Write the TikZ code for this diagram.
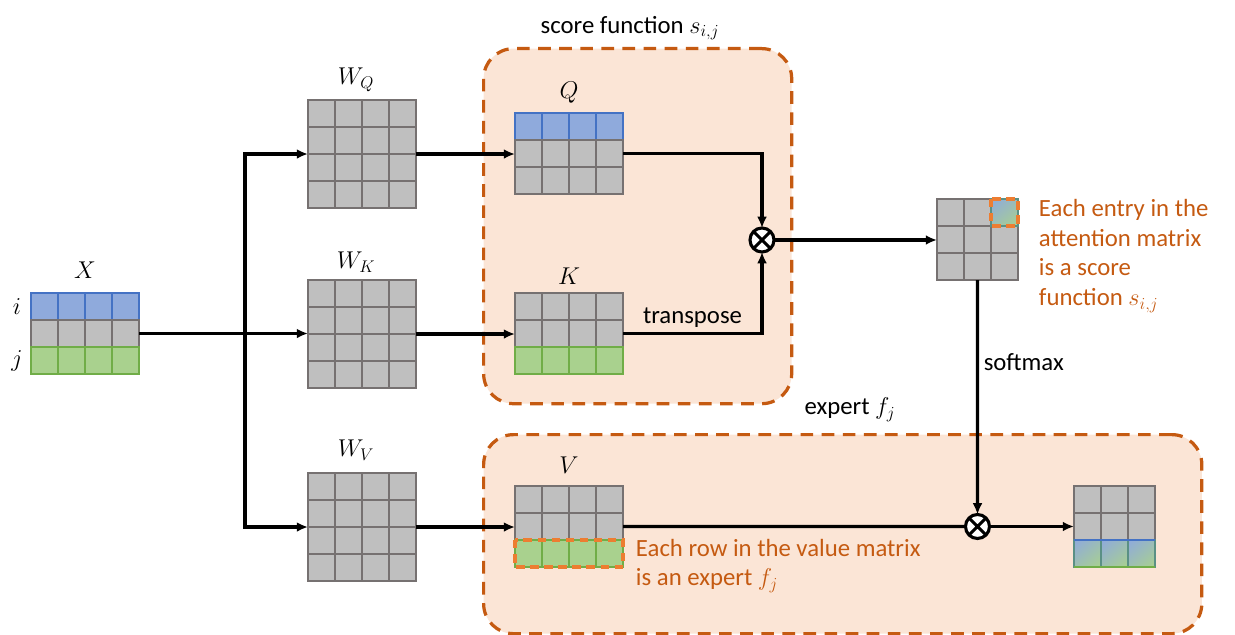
\documentclass[tikz,border=0pt]{standalone}
\usepackage{fontspec}
\setmainfont{Carlito}
\usepackage{tikz}
\usetikzlibrary{calc}
\usetikzlibrary{shapes}
\usetikzlibrary{shadings}
\usetikzlibrary{arrows.meta}
\definecolor{cellgray}{HTML}{BFBFBF}
\definecolor{linegray}{HTML}{767171}
\definecolor{qblue}{HTML}{8FAADC}
\definecolor{qline}{HTML}{4472C4}
\definecolor{kgreen}{HTML}{A9D18E}
\definecolor{kline}{HTML}{70AD47}
\definecolor{boxfill}{HTML}{FBE5D6}
\definecolor{boxline}{HTML}{C55A11}
\definecolor{hlorange}{HTML}{ED7D31}
\newcommand{\cellrow}[4]{ \foreach \col in {1,...,#3} { \draw[#4] ( #1 + 27 * \col - 27 , #2 ) rectangle ( #1 + 27 * \col , #2 + 27 ); } }
\newcommand{\matnode}[5]{ \node[inner sep=0, outer sep=0, minimum width=#3 * 0.675cm, minimum height=#4 * 0.675cm, anchor=north west] (#5) at ( #1 , #2 ) {}; }
\newcommand{\mixcell}[2]{ \shadedraw[upper left=qblue, lower right=kgreen, upper right=qblue!55!kgreen, lower left=qblue!45!kgreen, draw=qline!50!kline, line width=2.1pt] ( #1 , #2 ) rectangle ( #1 + 27 , #2 + 27 ); }
\begin{document}
\begin{tikzpicture}[x=0.025cm, y=-0.025cm, font=\fontsize{17.6}{21}\selectfont,
  cell/.style={draw=linegray, fill=cellgray, line width=2.1pt},
  qcell/.style={draw=qline, fill=qblue, line width=2.1pt},
  kcell/.style={draw=kline, fill=kgreen, line width=2.1pt},
  conn/.style={line width=2.2pt},
  arr/.style={conn, -{Latex[length=8pt,width=7pt]}},
  group/.style={draw=boxline, fill=boxfill, line width=2.3pt, dash pattern=on 9pt off 6pt, rounded corners=0.75cm, inner sep=0, anchor=north west},
  pick/.style={draw=hlorange, line width=2.6pt, dash pattern=on 6pt off 4pt},
  note/.style={text=boxline, align=left, anchor=west},
  mult/.style={circle, draw, fill=white, line width=2.2pt, minimum size=0.6cm, inner sep=0, outer sep=0}]
\useasboundingbox (0,0) rectangle (1235,635);

% groups
\node[group, minimum width=7.7cm, minimum height=8.875cm] (scorebox) at (482,47) {};
\node (scoretitle) at (630,28) {score function $s_{i,j}$};
\node[group, minimum width=17.95cm, minimum height=4.975cm] (expertbox) at (482,433) {};
\node (experttitle) at (850,410) {expert $f_j$};

% X
\matnode{31}{293}{4}{3}{X}
\cellrow{31}{293}{4}{qcell}
\cellrow{31}{320}{4}{cell}
\cellrow{31}{347}{4}{kcell}
\node (labX) at (85,270) {$X$};
\node (labi) at (17,307) {$i$};
\node (labj) at (17,361) {$j$};

% weights
\matnode{308}{100}{4}{4}{WQ}
\matnode{308}{280}{4}{4}{WK}
\matnode{308}{473}{4}{4}{WV}
\foreach \y in {100,127,154,181} { \cellrow{308}{\y}{4}{cell} }
\foreach \y in {280,307,334,361} { \cellrow{308}{\y}{4}{cell} }
\foreach \y in {473,500,527,554} { \cellrow{308}{\y}{4}{cell} }
\node (labWQ) at (356,80) {$W_Q$};
\node (labWK) at (356,262) {$W_K$};
\node (labWV) at (356,450) {$W_V$};

% Q K V
\matnode{515}{113}{4}{3}{Q}
\cellrow{515}{113}{4}{qcell}
\cellrow{515}{140}{4}{cell}
\cellrow{515}{167}{4}{cell}
\node (labQ) at (569,93) {$Q$};
\matnode{515}{293}{4}{3}{K}
\cellrow{515}{293}{4}{cell}
\cellrow{515}{320}{4}{cell}
\cellrow{515}{347}{4}{kcell}
\node (labK) at (569,276) {$K$};
\matnode{515}{486}{4}{3}{V}
\cellrow{515}{486}{4}{cell}
\cellrow{515}{513}{4}{cell}
\cellrow{515}{540}{4}{kcell}
\draw[pick] (515,540) rectangle (623,567);
\node (labV) at (569,465) {$V$};

% attention matrix
\matnode{937}{199}{3}{3}{A}
\cellrow{937}{199}{3}{cell}
\cellrow{937}{226}{3}{cell}
\cellrow{937}{253}{3}{cell}
\mixcell{991}{199}
\draw[pick] (991,199) rectangle (1018,226);

% output
\matnode{1074}{486}{3}{3}{O}
\cellrow{1074}{486}{3}{cell}
\cellrow{1074}{513}{3}{cell}
\mixcell{1074}{540}
\mixcell{1101}{540}
\mixcell{1128}{540}
\draw[qline, line width=2.1pt] (1074,540) -- (1155,540);
\draw[kline, line width=2.1pt] (1074,567) -- (1155,567);

% products
\node[mult] (m1) at (762,240) {};
\draw[conn] (m1.north west) -- (m1.south east) (m1.north east) -- (m1.south west);
\node[mult] (m2) at (977.5,526.5) {};
\draw[conn] (m2.north west) -- (m2.south east) (m2.north east) -- (m2.south west);

% connectors
\coordinate (split) at (245,333.5);
\draw[arr] (X.east) -- (X.east -| WK.west);
\draw[arr] (split) |- (WQ.west);
\draw[arr] (split) |- (WV.west);
\draw[arr] (WQ.east) -- (WQ.east -| Q.west);
\draw[arr] (WK.east) -- (WK.east -| K.west);
\draw[arr] (WV.east) -- (WV.east -| V.west);
\draw[arr] (Q.east) -| (m1.north);
\draw[arr] (K.east) -| node[above, pos=0.25] {transpose} (m1.south);
\draw[arr] (m1.east) -- (m1.east -| A.west);
\draw[arr] (A.south) -- node[right, pos=0.35] {softmax} (m2.north);
\draw[conn] (V.east) -- (m2.west);
\draw[arr] (m2.east) -- (m2.east -| O.west);

% notes
\node[note] (noteA) at (1034,256) {Each entry in the\\attention matrix\\is a score\\function $s_{i,j}$};
\node[note] (noteV) at (631,566) {Each row in the value matrix\\is an expert $f_j$};
\end{tikzpicture}
\end{document}
